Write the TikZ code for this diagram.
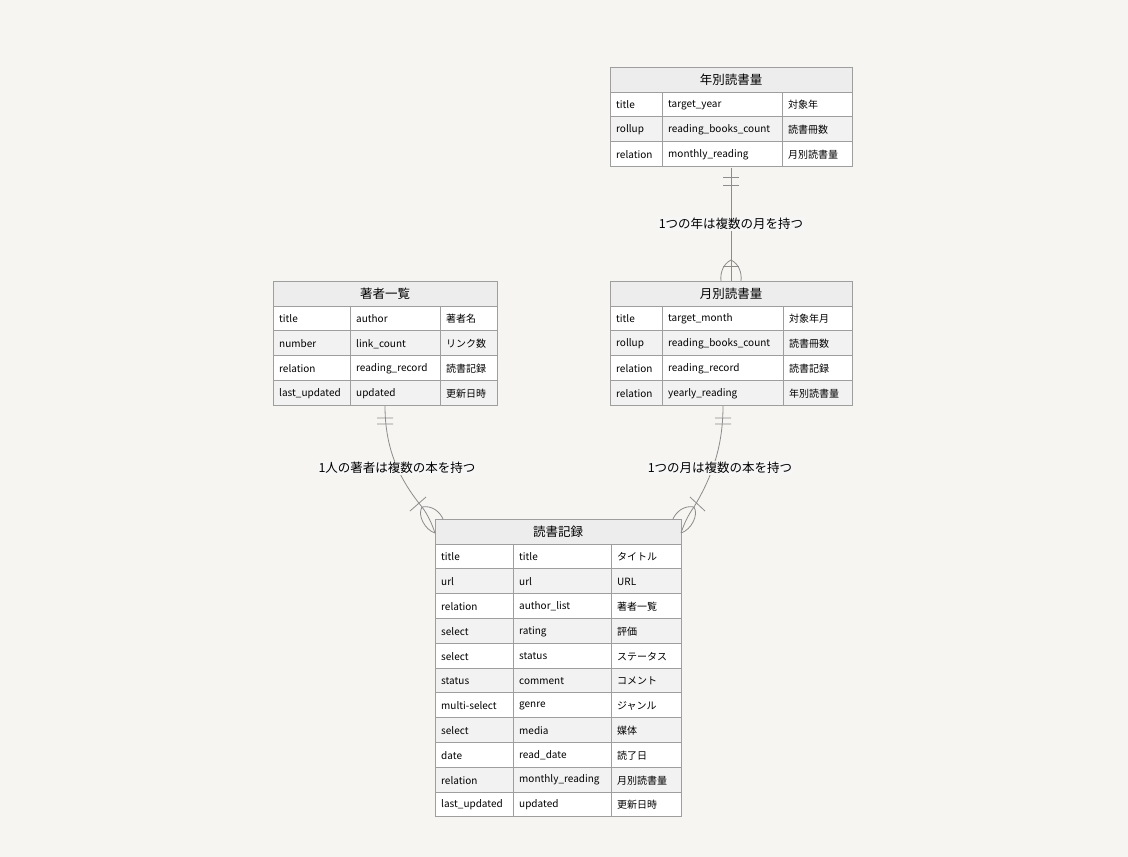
\documentclass[tikz,border=0pt]{standalone}
\usepackage{fontspec}
\setmainfont{Noto Sans CJK JP}
\begin{document}
\begin{tikzpicture}[x=1pt,y=-1pt,
  bd/.style={draw=black!38,line width=0.8pt},
  hd/.style={bd,fill=black!7},
  rw/.style={bd,fill=white},
  ra/.style={bd,fill=black!5},
  tx/.style={anchor=west,inner sep=0pt,font=\fontsize{10}{12}\selectfont},
  ht/.style={inner sep=0pt,font=\fontsize{12.5}{14}\selectfont},
  lk/.style={draw=black!45,line width=0.8pt},
  lb/.style={fill=black!3.5,inner sep=1pt,font=\fontsize{12.5}{14}\selectfont}]
\fill[fill={rgb,255:red,246;green,245;blue,242}] (0,0) rectangle (1128,857);
\useasboundingbox (0,0) rectangle (1128,857);
\newcommand{\etable}[8]{%
  \draw[hd] (#2,#6) rectangle (#5,#6+25);
  \node[ht] (#1) at ({(#2+#5)/2},#6+13) {#7};
  \foreach \a/\b/\c [count=\i] in {#8} {
    \pgfmathsetmacro\yy{#6+25+(\i-1)*24.8}
    \ifodd\i \draw[rw] (#2,\yy) rectangle (#5,\yy+24.8); \else \draw[ra] (#2,\yy) rectangle (#5,\yy+24.8); \fi
    \draw[bd] (#3,\yy) -- (#3,\yy+24.8) (#4,\yy) -- (#4,\yy+24.8);
    \node[tx] at (#2+6,\yy+13) {\a};
    \node[tx] at (#3+6,\yy+13) {\b};
    \node[tx] at (#4+6,\yy+13) {\c};
  }}
\etable{year}{610}{662}{782}{852}{67}{年別読書量}{title/target\_year/対象年,rollup/reading\_books\_count/読書冊数,relation/monthly\_reading/月別読書量}
\etable{month}{610}{662}{783}{852}{281}{月別読書量}{title/target\_month/対象年月,rollup/reading\_books\_count/読書冊数,relation/reading\_record/読書記録,relation/yearly\_reading/年別読書量}
\etable{author}{273}{350}{440}{497}{281}{著者一覧}{title/author/著者名,number/link\_count/リンク数,relation/reading\_record/読書記録,last\_updated/updated/更新日時}
\etable{rec}{435}{513}{611}{681}{519}{読書記録}{title/title/タイトル,url/url/URL,relation/author\_list/著者一覧,select/rating/評価,select/status/ステータス,status/comment/コメント,multi-select/genre/ジャンル,select/media/媒体,date/read\_date/読了日,relation/monthly\_reading/月別読書量,last\_updated/updated/更新日時}
\coordinate (ya) at (731,167.6);
\coordinate (mb) at (731,281);
\draw[lk] (ya) -- (mb);
\draw[lk] (723,177) -- (739,177) (723,185) -- (739,185) (723,266) -- (739,266);
\draw[lk] (731,260) .. controls (723,264) and (720,273) .. (721,281);
\draw[lk] (731,260) .. controls (739,264) and (742,273) .. (741,281);
\node[lb] (l1) at (731,224) {1つの年は複数の月を持つ};
\coordinate (aa) at (385,406);
\coordinate (ra1) at (435,533);
\draw[lk] (aa) .. controls (385,450) and (400,480) .. (422,507) .. controls (428,515) and (432,524) .. (ra1);
\draw[lk] (377,418) -- (393,418) (377,424) -- (393,424) (410,511) -- (426,497);
\draw[lk] (422,507) .. controls (417,515) and (425,530) .. (435,533);
\draw[lk] (422,507) .. controls (432,505) and (440,512) .. (443,519);
\node[lb] (l2) at (397,468) {1人の著者は複数の本を持つ};
\coordinate (ma) at (723,406);
\coordinate (ra2) at (681,533);
\draw[lk] (ma) .. controls (723,450) and (710,480) .. (694,507) .. controls (688,515) and (684,524) .. (ra2);
\draw[lk] (715,418) -- (731,418) (715,424) -- (731,424) (690,497) -- (705,511);
\draw[lk] (694,507) .. controls (699,515) and (691,530) .. (681,533);
\draw[lk] (694,507) .. controls (684,505) and (676,512) .. (673,519);
\node[lb] (l3) at (720,468) {1つの月は複数の本を持つ};
\end{tikzpicture}
\end{document}
